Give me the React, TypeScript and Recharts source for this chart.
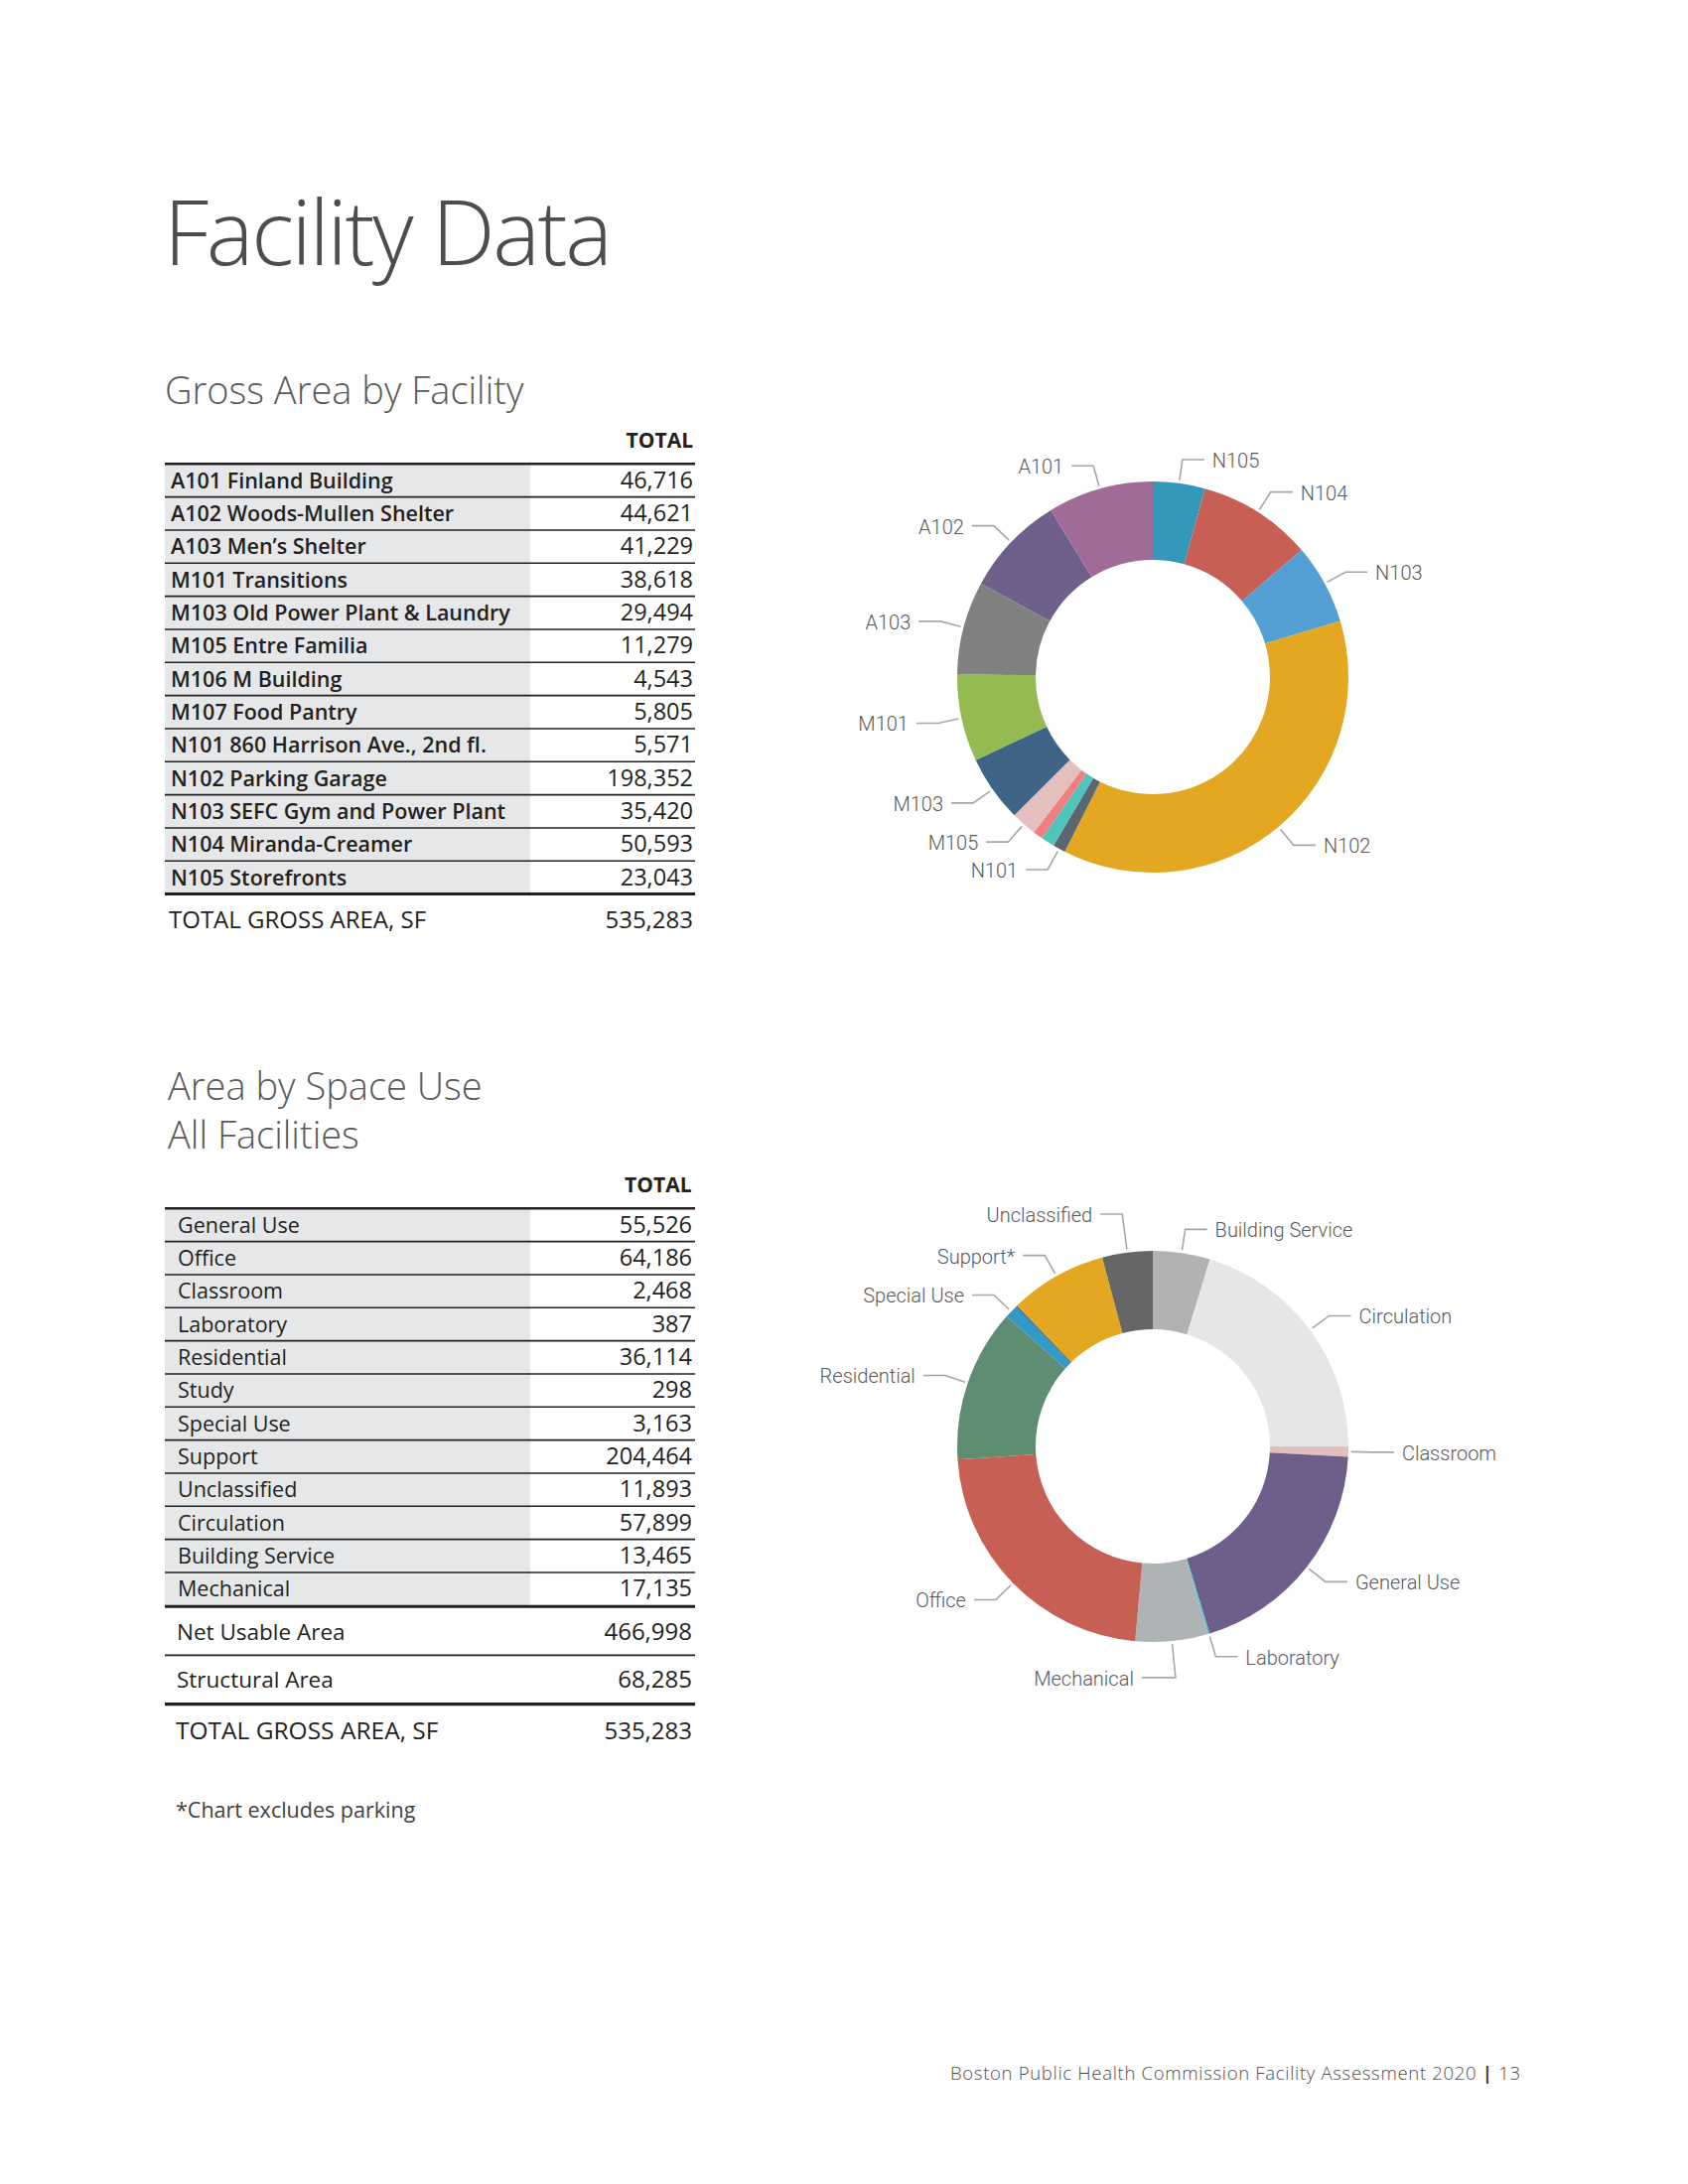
import React from 'react';
import { PieChart, Pie, Cell } from 'recharts';

// ---------- DATA ----------
const facilityCodes = ['A101', 'A102', 'A103', 'M101', 'M103', 'M105', 'M106', 'M107', 'N101', 'N102', 'N103', 'N104', 'N105'];
const facilityNames = [
  'A101 Finland Building',
  'A102 Woods-Mullen Shelter',
  'A103 Men\u2019s Shelter',
  'M101 Transitions',
  'M103 Old Power Plant & Laundry',
  'M105 Entre Familia',
  'M106 M Building',
  'M107 Food Pantry',
  'N101 860 Harrison Ave., 2nd fl.',
  'N102 Parking Garage',
  'N103 SEFC Gym and Power Plant',
  'N104 Miranda-Creamer',
  'N105 Storefronts',
];
const facilityAreas = [46716, 44621, 41229, 38618, 29494, 11279, 4543, 5805, 5571, 198352, 35420, 50593, 23043];
const totalGrossArea = 535283;

const spaceUseNames = ['General Use', 'Office', 'Classroom', 'Laboratory', 'Residential', 'Study', 'Special Use', 'Support', 'Unclassified', 'Circulation', 'Building Service', 'Mechanical'];
const spaceUseAreas = [55526, 64186, 2468, 387, 36114, 298, 3163, 204464, 11893, 57899, 13465, 17135];

// Space use chart (excludes parking) – clockwise from top
const chartUseLabels = ['Building Service', 'Circulation', 'Classroom', 'General Use', 'Laboratory', 'Mechanical', 'Office', 'Residential', 'Special Use', 'Study', 'Support*', 'Unclassified'];
const chartUseValues = [13465, 57899, 2468, 55526, 387, 17135, 64186, 36114, 3163, 298, 23000, 11893];

// ---------- STYLES ----------
const facilityColors: Record<string, string> = {
  A101: '#A06C97', A102: '#6F5F8B', A103: '#808080', M101: '#94BA52', M103: '#3E6487',
  M105: '#E5BEBE', M106: '#F07F7F', M107: '#4DC4BC', N101: '#5B6770', N102: '#E3A722',
  N103: '#539FD4', N104: '#C75F55', N105: '#3398B9',
};
const useColors: Record<string, string> = {
  'Building Service': '#B2B2B2', Circulation: '#E6E6E7', Classroom: '#E2BEBE', 'General Use': '#6E5E8A',
  Laboratory: '#45C3C3', Mechanical: '#AEB3B6', Office: '#C75F55', Residential: '#5E8D72',
  'Special Use': '#3399C6', Study: '#3D5A70', 'Support*': '#E3A722', Unclassified: '#666666',
};

const fmt = (n: number) => n.toLocaleString('en-US');
const sum = (a: number[]) => a.reduce((s, v) => s + v, 0);
const netUsableArea = sum(spaceUseAreas);
const structuralArea = totalGrossArea - netUsableArea;

const facilityPie = facilityCodes.map((c, i) => ({ name: c, value: facilityAreas[i] })).reverse();
const usePie = chartUseLabels.map((n, i) => ({ name: n, value: chartUseValues[i] }));

const RAD = Math.PI / 180;
type LabelOpts = { hidden?: string[]; side?: Record<string, number>; extra?: Record<string, number>; hExtra?: Record<string, number> };
const makeLabel = (opts: LabelOpts) => (props: any) => {
  const { cx, cy, midAngle, outerRadius, name, index } = props;
  if (opts.hidden && opts.hidden.includes(name)) return null;
  const extra = (opts.extra && opts.extra[name]) || 0;
  const hExtra = (opts.hExtra && opts.hExtra[name]) || 0;
  const cos = Math.cos(-midAngle * RAD);
  const sin = Math.sin(-midAngle * RAD);
  const x1 = cx + (outerRadius + 3) * cos;
  const y1 = cy + (outerRadius + 3) * sin;
  const x2 = cx + (outerRadius + 24 + extra) * cos;
  const y2 = cy + (outerRadius + 24 + extra) * sin;
  let side = cos >= 0 ? 1 : -1;
  if (opts.side && opts.side[name]) side = opts.side[name];
  const x3 = x2 + side * (22 + hExtra);
  return (
    <g key={`lbl-${index}`}>
      <polyline points={`${x1},${y1} ${x2},${y2} ${x3},${y2}`} fill="none" stroke="#A6A6A6" strokeWidth={1.6} />
      <text
        x={x3 + side * 8}
        y={y2 + 1}
        textAnchor={side > 0 ? 'start' : 'end'}
        dominantBaseline="central"
        fontFamily="Roboto, 'Open Sans', sans-serif"
        fontWeight={300}
        fontSize={20}
        fill="#595959"
      >
        {name}
      </text>
    </g>
  );
};

const facilityLabel = makeLabel({ hidden: ['M106', 'M107'] });
const useLabel = makeLabel({
  hidden: ['Study'],
  side: { Mechanical: -1 },
  extra: { Mechanical: 13, Unclassified: 15 },
  hExtra: { Mechanical: 12 },
});

const INK = '#231F20';
const ROW_H = 33.33;

export default function App() {
  const t1Top = 467.3;
  const t2Top = 1217.3;
  return (
    <div style={{ position: 'absolute', left: 0, top: 0, width: 1700, height: 2200, background: '#fff' }}>
      <svg width={1700} height={2200} style={{ position: 'absolute', left: 0, top: 0 }} fontFamily="'Open Sans', sans-serif">
        {/* Titles */}
        <text x={165} y={267} fontSize={90} fontWeight={300} fill="#4D4D4D" textLength={452} lengthAdjust="spacing">Facility Data</text>
        <text x={166} y={407} fontSize={38} fontWeight={300} fill="#595959">Gross Area by Facility</text>

        {/* Table 1 */}
        <text x={698} y={450.7} fontSize={21} fontWeight={700} fill={INK} textAnchor="end">TOTAL</text>
        {facilityNames.map((n, i) => {
          const top = t1Top + i * ROW_H;
          return (
            <g key={n}>
              <rect x={166} y={top} width={368} height={ROW_H} fill="#E6E7E8" />
              <text x={172} y={top + 24.4} fontSize={21.5} fontWeight={600} fill={INK}>{n}</text>
              <text x={698} y={top + 24.4} fontSize={23.5} fontWeight={400} fill={INK} textAnchor="end">{fmt(facilityAreas[i])}</text>
            </g>
          );
        })}
        {facilityNames.map((n, i) => (
          i < facilityNames.length - 1 ? (
            <line key={`l1-${i}`} x1={166} x2={700} y1={t1Top + (i + 1) * ROW_H} y2={t1Top + (i + 1) * ROW_H} stroke={INK} strokeWidth={1.6} />
          ) : null
        ))}
        <line x1={166} x2={700} y1={t1Top} y2={t1Top} stroke={INK} strokeWidth={2.5} />
        <line x1={166} x2={700} y1={t1Top + facilityNames.length * ROW_H} y2={t1Top + facilityNames.length * ROW_H} stroke={INK} strokeWidth={3} />
        <text x={170} y={935} fontSize={24} fontWeight={400} fill={INK}>TOTAL GROSS AREA, SF</text>
        <text x={698} y={935} fontSize={24} fontWeight={400} fill={INK} textAnchor="end">{fmt(totalGrossArea)}</text>

        {/* Section 2 */}
        <text x={169} y={1107.7} fontSize={38} fontWeight={300} fill="#595959">Area by Space Use</text>
        <text x={169} y={1157.3} fontSize={38} fontWeight={300} fill="#595959">All Facilities</text>
        <text x={696.5} y={1201} fontSize={21} fontWeight={700} fill={INK} textAnchor="end">TOTAL</text>
        {spaceUseNames.map((n, i) => {
          const top = t2Top + i * ROW_H;
          return (
            <g key={n}>
              <rect x={166} y={top} width={368} height={ROW_H} fill="#E6E7E8" />
              <text x={179} y={top + 24.4} fontSize={21.5} fontWeight={400} fill={INK}>{n}</text>
              <text x={697} y={top + 24.4} fontSize={23.5} fontWeight={400} fill={INK} textAnchor="end">{fmt(spaceUseAreas[i])}</text>
            </g>
          );
        })}
        {spaceUseNames.map((n, i) => (
          i < spaceUseNames.length - 1 ? (
            <line key={`l2-${i}`} x1={166} x2={700} y1={t2Top + (i + 1) * ROW_H} y2={t2Top + (i + 1) * ROW_H} stroke={INK} strokeWidth={1.6} />
          ) : null
        ))}
        <line x1={166} x2={700} y1={t2Top} y2={t2Top} stroke={INK} strokeWidth={2.5} />
        <line x1={166} x2={700} y1={t2Top + spaceUseNames.length * ROW_H + 1} y2={t2Top + spaceUseNames.length * ROW_H + 1} stroke={INK} strokeWidth={3.2} />

        <text x={178} y={1651.7} fontSize={22.5} fontWeight={500} fill={INK}>Net Usable Area</text>
        <text x={697} y={1651.7} fontSize={24} fontWeight={400} fill={INK} textAnchor="end">{fmt(netUsableArea)}</text>
        <line x1={166} x2={700} y1={1667.3} y2={1667.3} stroke={INK} strokeWidth={1.8} />
        <text x={178} y={1700} fontSize={22.5} fontWeight={500} fill={INK}>Structural Area</text>
        <text x={697} y={1700} fontSize={24} fontWeight={400} fill={INK} textAnchor="end">{fmt(structuralArea)}</text>
        <line x1={166} x2={700} y1={1716.7} y2={1716.7} stroke={INK} strokeWidth={3.2} />
        <text x={177} y={1751.7} fontSize={24.5} fontWeight={400} fill={INK}>TOTAL GROSS AREA, SF</text>
        <text x={697} y={1751.7} fontSize={24} fontWeight={400} fill={INK} textAnchor="end">{fmt(totalGrossArea)}</text>

        <text x={177} y={1830.7} fontSize={21.5} fontWeight={400} fill="#404040">*Chart excludes parking</text>

        {/* Footer */}
        <text x={957} y={2095} fontSize={18.5} fontWeight={300} fill="#4D4D4D" textLength={574} lengthAdjust="spacing">
          Boston Public Health Commission Facility Assessment 2020 <tspan fontWeight={700} fill="#404040">|</tspan> 13
        </text>
      </svg>

      <div style={{ position: 'absolute', left: 780, top: 420, width: 780, height: 520 }}>
        <PieChart width={780} height={520} margin={{ top: 0, right: 0, bottom: 0, left: 0 }}>
          <Pie
            data={facilityPie}
            dataKey="value"
            nameKey="name"
            cx={381}
            cy={262}
            innerRadius={118}
            outerRadius={197}
            startAngle={90}
            endAngle={-270}
            stroke="none"
            label={facilityLabel}
            labelLine={false}
            isAnimationActive={false}
          >
            {facilityPie.map((d) => (
              <Cell key={d.name} fill={facilityColors[d.name]} />
            ))}
          </Pie>
        </PieChart>
      </div>

      <div style={{ position: 'absolute', left: 780, top: 1180, width: 780, height: 560 }}>
        <PieChart width={780} height={560} margin={{ top: 0, right: 0, bottom: 0, left: 0 }}>
          <Pie
            data={usePie}
            dataKey="value"
            nameKey="name"
            cx={381}
            cy={277}
            innerRadius={118}
            outerRadius={197}
            startAngle={90}
            endAngle={-270}
            stroke="none"
            label={useLabel}
            labelLine={false}
            isAnimationActive={false}
          >
            {usePie.map((d) => (
              <Cell key={d.name} fill={useColors[d.name]} />
            ))}
          </Pie>
        </PieChart>
      </div>
    </div>
  );
}
